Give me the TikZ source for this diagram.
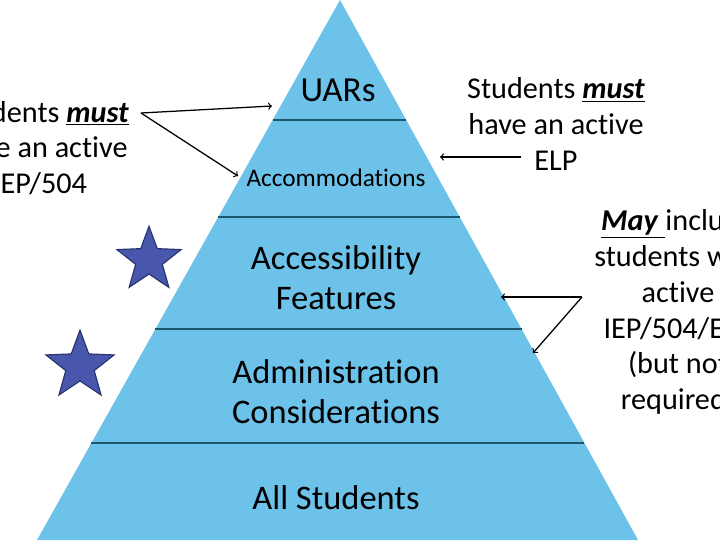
\documentclass[tikz,border=0pt]{standalone}
\usepackage{fontspec}
\setmainfont{Carlito}[Ligatures=NoCommon]
\usetikzlibrary{calc,shapes.geometric}

\definecolor{pyrblue}{HTML}{6CC2E8}
\definecolor{tierline}{HTML}{1E5670}
\definecolor{starfill}{HTML}{4857AC}
\definecolor{starline}{HTML}{27336F}

\tikzset{
  tier/.style={align=center, inner sep=0pt, text=black},
  sidenote/.style={align=center, inner sep=0pt, font=\fontsize{21.5}{25.5}\selectfont},
  pointer/.style={->, line width=0.9pt},
  bluestar/.style={star, star points=5, star point ratio=2.4, fill=starfill,
    draw=starline, line width=0.8pt, inner sep=0pt},
}

\begin{document}
\begin{tikzpicture}[x=0.025cm, y=-0.025cm]

  % frame of the slide
  \useasboundingbox (0,0) rectangle (720,540);
  \clip (0,0) rectangle (720,540);

  % corners of the pyramid
  \coordinate (top) at (340,0);
  \coordinate (bl) at (37,540);
  \coordinate (br) at (638,540);

  \fill[pyrblue] (top) -- (br) -- (bl) -- cycle;

  % tier borders
  \foreach \y in {120,217,329,443}{
    \pgfmathsetmacro{\t}{\y/540}
    \draw[tierline, line width=1pt] ($(top)!\t!(bl)$) -- ($(top)!\t!(br)$);
  }

  % tier labels
  \node[tier, font=\fontsize{25}{30}\selectfont] (uars) at (338,90) {UARs};
  \node[tier, font=\fontsize{18}{22}\selectfont] (accom) at (336,178) {Accommodations};
  \node[tier, font=\fontsize{24.5}{28.5}\selectfont] (access) at (336,278) {Accessibility\\Features};
  \node[tier, font=\fontsize{24.5}{28.5}\selectfont] (admin) at (336,392) {Administration\\Considerations};
  \node[tier, font=\fontsize{24.5}{28.5}\selectfont] (all) at (336,498) {All Students};

  % notes beside the pyramid
  \node[sidenote] (iep) at (40,148)
    {Students \underline{\textbf{\textit{must}}}\\have an active\\IEP/504};
  \node[sidenote] (elp) at (556,124)
    {Students \underline{\textbf{\textit{must}}}\\have an active\\ELP};
  \node[sidenote] (may) at (678,312)
    {\underline{\textbf{\textit{May}} }include\\students with\\active\\IEP/504/ELP\\(but not\\required)};

  % arrow ends
  \coordinate (iepv) at (141,113);
  \coordinate (uarstip) at (272,106);
  \coordinate (accomtip) at (238,176);
  \coordinate (elpstart) at (521,157);
  \coordinate (elptip) at (440,157);
  \coordinate (mayv) at (582,297);
  \coordinate (accesstip) at (501,297);
  \coordinate (admintip) at (533,353);

  \draw[pointer] (iepv) -- (uarstip);
  \draw[pointer] (iepv) -- (accomtip);
  \draw[pointer] (elpstart) -- (elptip);
  \draw[pointer] (mayv) -- (accesstip);
  \draw[pointer] (mayv) -- (admintip);

  % stars
  \node[bluestar, minimum size=48] (star1) at (149,260) {};
  \node[bluestar, minimum size=51] (star2) at (80,366) {};

\end{tikzpicture}
\end{document}
